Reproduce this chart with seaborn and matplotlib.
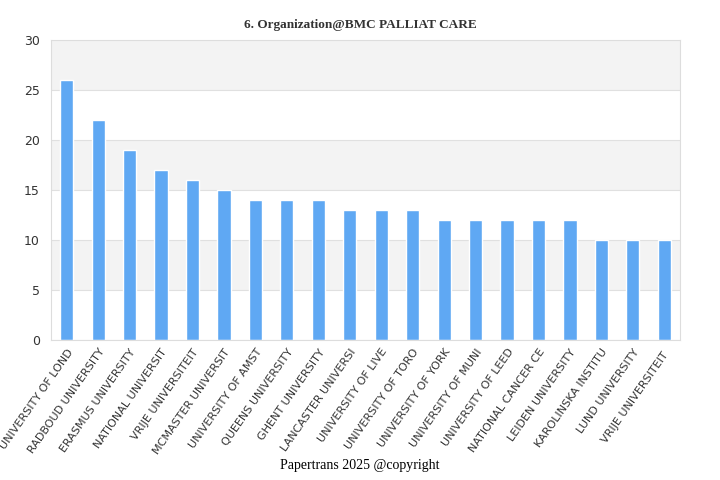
import seaborn as sns
import pandas as pd
import matplotlib.pyplot as plt

orgs = ["UNIVERSITY OF LOND", "RADBOUD UNIVERSITY", "ERASMUS UNIVERSITY", "NATIONAL UNIVERSIT",
        "VRIJE UNIVERSITEIT", "MCMASTER UNIVERSIT", "UNIVERSITY OF AMST", "QUEENS UNIVERSITY",
        "GHENT UNIVERSITY", "LANCASTER UNIVERSI", "UNIVERSITY OF LIVE", "UNIVERSITY OF TORO",
        "UNIVERSITY OF YORK", "UNIVERSITY OF MUNI", "UNIVERSITY OF LEED", "NATIONAL CANCER CE",
        "LEIDEN UNIVERSITY", "KAROLINSKA INSTITU", "LUND UNIVERSITY", "VRIJE UNIVERSITEIT "]
counts = [26, 22, 19, 17, 16, 15, 14, 14, 14, 13, 13, 13, 12, 12, 12, 12, 12, 10, 10, 10]

df = pd.DataFrame({"org": orgs, "n": counts})

sns.set_style("white")
plt.rcParams['font.family'] = ['DejaVu Sans']

fig = plt.figure(figsize=(7.2, 4.8), dpi=100)
ax = fig.add_axes([51/720, 1-340/480, 629/720, 300/480])

# alternating background bands
for lo in range(0, 30, 5):
    if (lo // 5) % 2 == 1:
        ax.axhspan(lo, lo+5, color="#f3f3f3", zorder=0, lw=0)
    ax.axhline(lo, color="#e0e0e0", lw=0.8, zorder=0.5)

sns.barplot(data=df, x="org", y="n", color="#5fa8f3", width=0.42, ax=ax, zorder=2, saturation=1)

ax.set_ylim(0, 30)
ax.set_yticks(range(0, 31, 5))
ax.set_xlim(-0.5, len(orgs)-0.5)
ax.set_xlabel("")
ax.set_ylabel("")
ax.tick_params(axis="y", labelsize=9, colors="#333333", length=0, pad=8)
ax.tick_params(axis="x", labelsize=8, colors="#333333", length=0, pad=5)
plt.setp(ax.get_xticklabels(), rotation=55, ha="right", rotation_mode="anchor")
for s in ax.spines.values():
    s.set_color("#dddddd")
    s.set_linewidth(0.8)

fig.text(360/720, 1-25/480, "6. Organization@BMC PALLIAT CARE", ha="center", va="center",
         fontsize=9.5, fontweight="bold", family=["Liberation Serif"], color="#333333")
fig.text(360/720, 1-466/480, "Papertrans 2025 @copyright", ha="center", va="center",
         fontsize=10, family=["Liberation Serif"], color="black")

fig.savefig("out.png", dpi=100)
